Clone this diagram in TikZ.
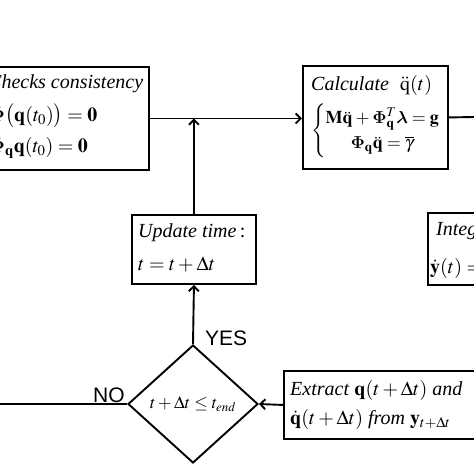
\documentclass[tikz,border=0pt]{standalone}
\usepackage{amsmath,bm}
\usepackage{mathptmx}
\usepackage{fontspec}
\setmainfont{Liberation Serif}
\newfontfamily\arialfont{Liberation Sans}
\usetikzlibrary{shapes.geometric,arrows.meta}
\tikzset{
    box/.style={draw, line width=1.9pt, inner sep=0pt, anchor=north west},
    txt/.style={anchor=base west, inner sep=0pt, font=\fontsize{20}{25}\selectfont},
    flow/.style={line width=1.9pt},
    arr/.style={flow, -{Straight Barb[length=5pt,width=10pt]}},
    yesno/.style={anchor=base west, inner sep=0pt, font=\arialfont\fontsize{21}{21}\selectfont}
}

\begin{document}
\begin{tikzpicture}[x=1pt, y=-1pt]
        \useasboundingbox (0,0) rectangle (474,474);
        % boxes
        \node[box, anchor=north east, minimum width=190pt, minimum height=103pt] (chk) at (150, 66) {};
        \node[box, minimum width=145pt, minimum height=103pt] (calc) at (302, 65) {};
        \node[box, minimum width=120pt, minimum height=72pt]  (integ) at (427, 212) {};
        \node[box, minimum width=124pt, minimum height=69pt]  (upd) at (131, 214) {};
        \node[box, minimum width=230pt, minimum height=68pt]  (extr) at (283, 370) {};
        \node[draw, diamond, line width=1.9pt, inner sep=0pt, minimum width=130pt, minimum height=118pt,
              font=\fontsize{17.5}{17.5}\selectfont] (test) at (193, 404) {$t+\Delta t\le t_{end}$};
        % texts
        \node[txt] (chk1) at (-12,  88) {\textit{Checks consistency}};
        \node[txt] (chk2) at (-12, 121) {$\bm{\Phi}\big(\mathbf{q}(t_0)\big)=\mathbf{0}$};
        \node[txt] (chk3) at (-12, 152) {$\bm{\Phi}_{\mathbf{q}}\mathbf{q}(t_0)=\mathbf{0}$};
        \node[txt] (calc1) at (311, 90) {\textit{Calculate}};
        \node[txt] (calc2) at (400, 90) {$\ddot{\mathrm{q}}(t)$};
        \node[txt, font=\fontsize{18}{25}\selectfont] (calc3) at (311, 135.5) {\medmuskip=3mu\thickmuskip=4mu$\left\{\begin{array}{@{}c@{}}
            \mathbf{M}\ddot{\mathbf{q}}+\bm{\Phi}_{\mathbf{q}}^{T}\bm{\lambda}=\mathbf{g}\\
            \bm{\Phi}_{\mathbf{q}}\ddot{\mathbf{q}}=\overline{\gamma}
            \end{array}\right.$};
        \node[txt] (upd1) at (138, 237) {\textit{Update time}\,:};
        \node[txt] (upd2) at (138, 270) {$t=t+\Delta t$};
        \node[txt] (int1) at (436, 235) {\textit{Integrate}};
        \node[txt] (int2) at (430, 273) {$\dot{\mathbf{y}}(t)=$};
        \node[txt] (ext1) at (290, 395) {\textit{Extract} $\mathbf{q}(t+\Delta t)$ \textit{and}};
        \node[txt] (ext2) at (290, 424) {$\dot{\mathbf{q}}(t+\Delta t)$ \textit{from} $\mathbf{y}_{t+\Delta t}$};
        \node[yesno] (yes) at (205, 345) {YES};
        \node[yesno] (no)  at (93, 402)  {NO};
        % connectors
        \coordinate (calcout) at (500, 116.5);
        \coordinate (noend) at (-20, 404);
        \draw[arr]  (chk.east) -- (chk.east -| calc.west);
        \draw[arr]  (upd.north) -- (upd.north |- chk.east);
        \draw[flow] (calc.east) -- (calcout);
        \draw[arr]  (test.north) -- (upd.south);
        \draw[arr]  (extr.west) -- (test.east);
        \draw[flow] (test.west) -- (noend);
    \end{tikzpicture}
\end{document}
